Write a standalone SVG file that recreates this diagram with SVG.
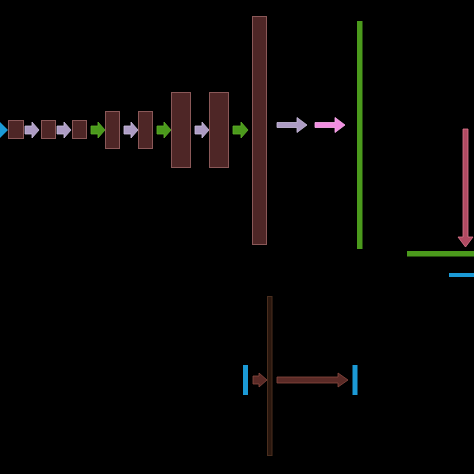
<svg xmlns="http://www.w3.org/2000/svg" width="474" height="474" viewBox="0 0 474 474">
<style>
.box{fill:#4e2626;stroke:#8a5858;stroke-width:1}
.pur{fill:#ad9cc4;stroke:#cbbfe0;stroke-width:0.8}
.grn{fill:#4b9a1c;stroke:#5fb02a;stroke-width:0.8}
.pink{fill:#f28ee2;stroke:#ffb0f0;stroke-width:0.8}
.blue{fill:#1b9ad6}
.dark{fill:#5a2a26;stroke:#8a4a40;stroke-width:0.8}
.red{fill:#b04a62;stroke:#e07a90;stroke-width:0.8}
</style>
<rect width="474" height="474" fill="#000"/>
<g id="connectors">
<polygon class="blue" points="0,122 8,130 0,138"/>
<polygon class="pur" points="25,126 32,126 32,122 39,130 32,138 32,134 25,134"/>
<polygon class="pur" points="57,126 64,126 64,122 71,130 64,138 64,134 57,134"/>
<polygon class="grn" points="91,126 98,126 98,122 105,130 98,138 98,134 91,134"/>
<polygon class="pur" points="124,126 131,126 131,122 138,130 131,138 131,134 124,134"/>
<polygon class="grn" points="157,126 164,126 164,122 171,130 164,138 164,134 157,134"/>
<polygon class="pur" points="195,126 202,126 202,122 209,130 202,138 202,134 195,134"/>
<polygon class="grn" points="233,126 241,126 241,122 248,130 241,138 241,134 233,134"/>
<polygon class="pur" points="277,122.5 297,122.5 297,117.5 307,125 297,132.5 297,127.5 277,127.5"/>
<polygon class="pink" points="315,122.5 335,122.5 335,117.5 345,125 335,132.5 335,127.5 315,127.5"/>
<polygon class="red" points="463,129 468,129 468,237 473,237 465.5,247 458,237 463,237"/>
<polygon class="dark" points="253,376 259,376 259,373 267,380 259,387 259,384 253,384"/>
<polygon class="dark" points="277,377 338,377 338,373 348,380 338,387 338,383 277,383"/>
</g>
<g id="n1"><rect class="box" x="8.5" y="120.5" width="15" height="18"/></g>
<g id="n2"><rect class="box" x="41.5" y="120.5" width="14" height="18"/></g>
<g id="n3"><rect class="box" x="72.5" y="120.5" width="14" height="18"/></g>
<g id="n4"><rect class="box" x="105.5" y="111.5" width="14" height="37"/></g>
<g id="n5"><rect class="box" x="138.5" y="111.5" width="14" height="37"/></g>
<g id="n6"><rect class="box" x="171.5" y="92.5" width="19" height="75"/></g>
<g id="n7"><rect class="box" x="209.5" y="92.5" width="19" height="75"/></g>
<g id="n8"><rect class="box" x="252.5" y="16.5" width="14" height="228"/></g>
<g id="n9"><rect x="357" y="21" width="5.5" height="228" fill="#4b9a1c"/></g>
<g id="n10"><rect x="407" y="251" width="67" height="5.5" fill="#4b9a1c"/></g>
<g id="n11"><rect x="449" y="273" width="25" height="4" fill="#1b9ad6"/></g>
<g id="n12"><rect x="267.5" y="296.5" width="4.5" height="159" fill="#2a170e" stroke="#4a2e1e" stroke-width="1"/></g>
<g id="n13"><rect x="243" y="365" width="5" height="30" fill="#1b9ad6"/></g>
<g id="n14"><rect x="352.5" y="365" width="5" height="30" fill="#1b9ad6"/></g>
</svg>
